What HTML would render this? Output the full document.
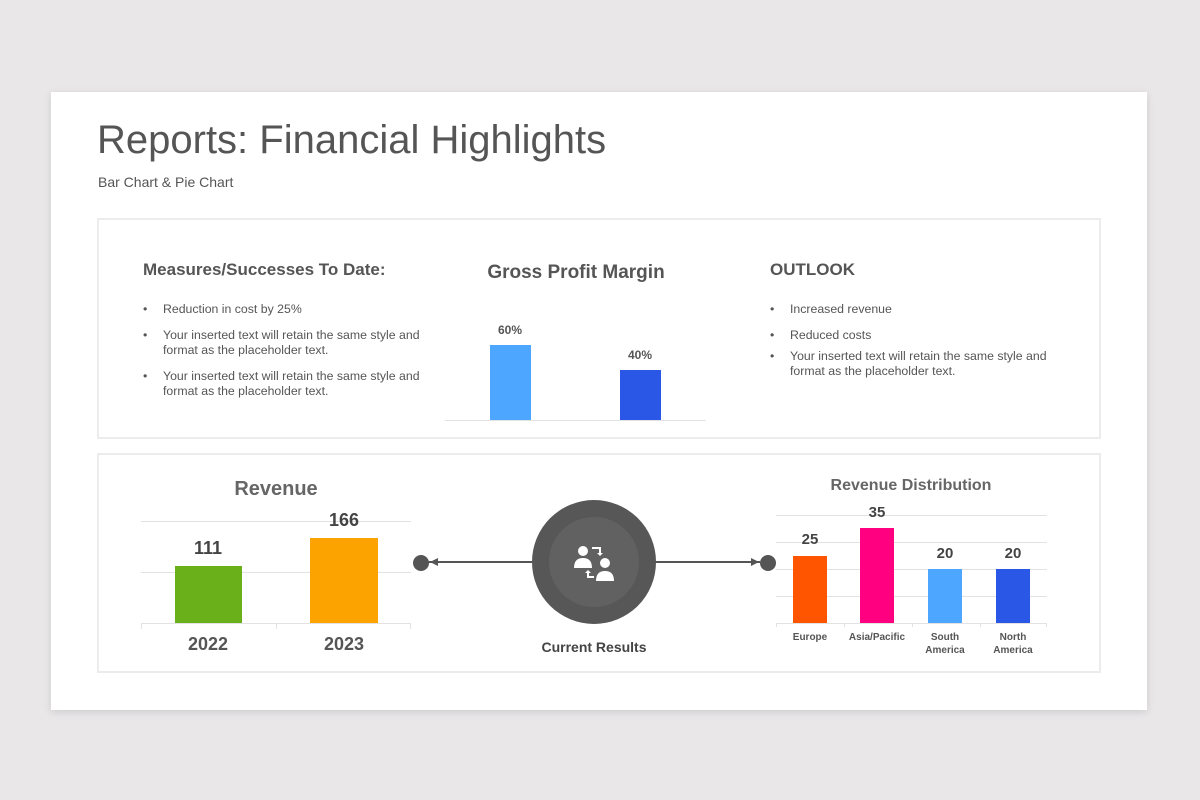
<!DOCTYPE html>
<html><head><meta charset="utf-8"><style>
*{margin:0;padding:0;box-sizing:border-box}
body{width:1200px;height:800px;background:#e9e7e8;position:relative;overflow:hidden;font-family:"Liberation Sans",sans-serif;color:#555}
.a{position:absolute;white-space:nowrap}
.card{position:absolute;left:51px;top:92px;width:1096px;height:618px;background:#fff;box-shadow:0 2px 8px rgba(0,0,0,.12)}
.panel{position:absolute;left:97px;width:1004px;border:2px solid #ececec}
.b{position:absolute}
.t{font-size:12.3px;color:#555;line-height:15px}
.g{position:absolute;height:1px;background:#e2e2e2}
.c{text-align:center;transform:translateX(-50%)}
</style></head><body>
<div class="card"></div>
<div class="a" style="left:97px;top:117px;font-size:40px;color:#555;line-height:46px">Reports: Financial Highlights</div>
<div class="a" style="left:98px;top:174px;font-size:14px;color:#555">Bar Chart &amp; Pie Chart</div>
<div class="panel" style="top:218px;height:221px"></div>
<div class="panel" style="top:453px;height:220px"></div>

<div class="a" style="left:143px;top:260px;font-size:17px;font-weight:bold;color:#555">Measures/Successes To Date:</div>
<div class="a t" style="left:143px;top:302px">•</div><div class="a t" style="left:163px;top:302px">Reduction in cost by 25%</div>
<div class="a t" style="left:143px;top:328px">•</div><div class="a t" style="left:163px;top:328px">Your inserted text will retain the same style and<br>format as the placeholder text.</div>
<div class="a t" style="left:143px;top:369px">•</div><div class="a t" style="left:163px;top:369px">Your inserted text will retain the same style and<br>format as the placeholder text.</div>

<div class="a c" style="left:576px;top:262px;font-size:19px;font-weight:bold;color:#555">Gross Profit Margin</div>
<div class="g" style="left:445px;top:420px;width:261px"></div>
<div class="b" style="left:490px;top:345px;width:41px;height:75px;background:#4da6ff"></div>
<div class="b" style="left:620px;top:370px;width:41px;height:50px;background:#2b57e6"></div>
<div class="a c" style="left:510px;top:323px;font-size:12px;font-weight:bold">60%</div>
<div class="a c" style="left:640px;top:348px;font-size:12px;font-weight:bold">40%</div>

<div class="a" style="left:770px;top:260px;font-size:17px;font-weight:bold;color:#555">OUTLOOK</div>
<div class="a t" style="left:770px;top:302px">•</div><div class="a t" style="left:790px;top:302px">Increased revenue</div>
<div class="a t" style="left:770px;top:328px">•</div><div class="a t" style="left:790px;top:328px">Reduced costs</div>
<div class="a t" style="left:770px;top:349px">•</div><div class="a t" style="left:790px;top:349px">Your inserted text will retain the same style and<br>format as the placeholder text.</div>

<!-- Revenue -->
<div class="a c" style="left:276px;top:478px;font-size:20px;font-weight:bold;color:#666">Revenue</div>
<div class="g" style="left:141px;top:521px;width:270px"></div>
<div class="g" style="left:141px;top:572px;width:270px"></div>
<div class="g" style="left:141px;top:623px;width:270px"></div>
<div class="b" style="left:141px;top:623px;width:1px;height:6px;background:#e2e2e2"></div>
<div class="b" style="left:276px;top:623px;width:1px;height:6px;background:#e2e2e2"></div>
<div class="b" style="left:410px;top:623px;width:1px;height:6px;background:#e2e2e2"></div>
<div class="b" style="left:175px;top:566px;width:67px;height:57px;background:#6ab01a"></div>
<div class="b" style="left:310px;top:538px;width:68px;height:85px;background:#fca300"></div>
<div class="a c" style="left:208px;top:538px;font-size:18px;font-weight:bold;color:#444">111</div>
<div class="a c" style="left:344px;top:510px;font-size:18px;font-weight:bold;color:#444">166</div>
<div class="a c" style="left:208px;top:634px;font-size:18px;font-weight:bold;color:#555">2022</div>
<div class="a c" style="left:344px;top:634px;font-size:18px;font-weight:bold;color:#555">2023</div>

<!-- center -->
<svg class="b" style="left:400px;top:490px" width="390" height="150" viewBox="400 490 390 150">
<line x1="428" y1="562" x2="534" y2="562" stroke="#555" stroke-width="2"/>
<line x1="654" y1="562" x2="760" y2="562" stroke="#555" stroke-width="2"/>
<path d="M430 562 l8 -4 v8 z" fill="#555"/><path d="M759 562 l-8 -4 v8 z" fill="#555"/>
<circle cx="421" cy="563" r="8" fill="#555"/><circle cx="768" cy="563" r="8" fill="#555"/>
<circle cx="594" cy="562" r="62" fill="#575757"/>
<circle cx="594" cy="562" r="45" fill="#616161"/>
<g fill="#fff">
<circle cx="583" cy="551" r="5"/><path d="M574 568 q0 -10 9 -10 q9 0 9 10 z"/>
<circle cx="605" cy="563" r="5"/><path d="M596 581 q0 -10 9 -10 q9 0 9 10 z"/>
<path d="M592 548 h8 v5" stroke="#fff" stroke-width="2" fill="none"/><path d="M597 553 l3 3 3 -3z"/>
<path d="M594 577 h-6 v-5" stroke="#fff" stroke-width="2" fill="none"/><path d="M585 573 l3 -3 3 3z"/>
</g>
</svg>
<div class="a c" style="left:594px;top:639px;font-size:14px;font-weight:bold;color:#444">Current Results</div>

<!-- Revenue Distribution -->
<div class="a c" style="left:911px;top:477px;font-size:16px;font-weight:bold;color:#666">Revenue Distribution</div>
<div class="g" style="left:776px;top:515px;width:271px"></div>
<div class="g" style="left:776px;top:542px;width:271px"></div>
<div class="g" style="left:776px;top:569px;width:271px"></div>
<div class="g" style="left:776px;top:596px;width:271px"></div>
<div class="g" style="left:776px;top:623px;width:271px"></div>
<div class="b" style="left:776px;top:623px;width:1px;height:4px;background:#e2e2e2"></div>
<div class="b" style="left:844px;top:623px;width:1px;height:4px;background:#e2e2e2"></div>
<div class="b" style="left:912px;top:623px;width:1px;height:4px;background:#e2e2e2"></div>
<div class="b" style="left:980px;top:623px;width:1px;height:4px;background:#e2e2e2"></div>
<div class="b" style="left:1046px;top:623px;width:1px;height:4px;background:#e2e2e2"></div>
<div class="b" style="left:793px;top:556px;width:34px;height:67px;background:#ff5500"></div>
<div class="b" style="left:860px;top:528px;width:34px;height:95px;background:#ff0080"></div>
<div class="b" style="left:928px;top:569px;width:34px;height:54px;background:#4da6ff"></div>
<div class="b" style="left:996px;top:569px;width:34px;height:54px;background:#2b57e6"></div>
<div class="a c" style="left:810px;top:531px;font-size:15px;font-weight:bold;color:#444">25</div>
<div class="a c" style="left:877px;top:504px;font-size:15px;font-weight:bold;color:#444">35</div>
<div class="a c" style="left:945px;top:545px;font-size:15px;font-weight:bold;color:#444">20</div>
<div class="a c" style="left:1013px;top:545px;font-size:15px;font-weight:bold;color:#444">20</div>
<div class="a c" style="left:810px;top:631px;font-size:10px;font-weight:bold;color:#555;line-height:13px">Europe</div>
<div class="a c" style="left:877px;top:631px;font-size:10px;font-weight:bold;color:#555;line-height:13px">Asia/Pacific</div>
<div class="a c" style="left:945px;top:631px;font-size:10px;font-weight:bold;color:#555;line-height:13px">South<br>America</div>
<div class="a c" style="left:1013px;top:631px;font-size:10px;font-weight:bold;color:#555;line-height:13px">North<br>America</div>
</body></html>
